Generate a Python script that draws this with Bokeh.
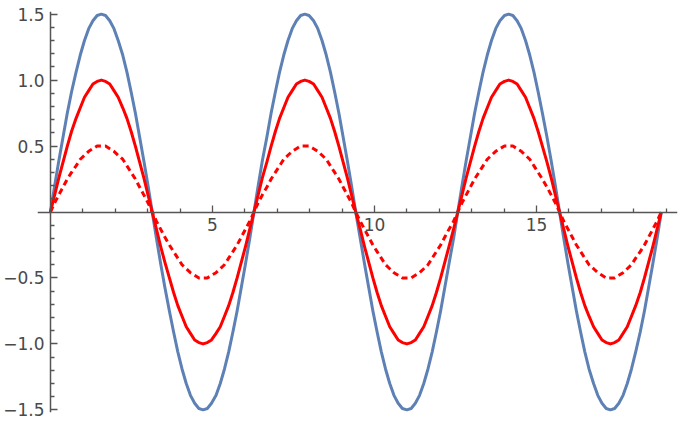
from bokeh.plotting import figure
from bokeh.models import FixedTicker, Range1d, LinearAxis
from bokeh.embed import file_html
from bokeh.resources import INLINE

# sample positions (x)
x_vals = [0.00, 0.13, 0.26, 0.39, 0.52, 0.65, 0.79, 0.92, 1.05, 1.18, 1.31, 1.44,
          1.57, 1.70, 1.83, 1.96, 2.09, 2.23, 2.36, 2.49, 2.62, 2.75, 2.88, 3.01,
          3.14, 3.27, 3.40, 3.53, 3.67, 3.80, 3.93, 4.06, 4.19, 4.32, 4.45, 4.58,
          4.71, 4.84, 4.97, 5.11, 5.24, 5.37, 5.50, 5.63, 5.76, 5.89, 6.02, 6.15,
          6.28, 6.41, 6.54, 6.68, 6.81, 6.94, 7.07, 7.20, 7.33, 7.46, 7.59, 7.72,
          7.85, 7.98, 8.12, 8.25, 8.38, 8.51, 8.64, 8.77, 8.90, 9.03, 9.16, 9.29,
          9.42, 9.56, 9.69, 9.82, 9.95, 10.08, 10.21, 10.34, 10.47, 10.60, 10.73, 10.86,
          11.00, 11.13, 11.26, 11.39, 11.52, 11.65, 11.78, 11.91, 12.04, 12.17, 12.30, 12.44,
          12.57, 12.70, 12.83, 12.96, 13.09, 13.22, 13.35, 13.48, 13.61, 13.74, 13.87, 14.01,
          14.14, 14.27, 14.40, 14.53, 14.66, 14.79, 14.92, 15.05, 15.18, 15.32, 15.45, 15.58,
          15.71, 15.84, 15.97, 16.10, 16.23, 16.36, 16.49, 16.62, 16.76, 16.89, 17.02, 17.15,
          17.28, 17.41, 17.54, 17.67, 17.80, 17.93, 18.06, 18.20, 18.33, 18.46, 18.59, 18.72,
          18.85]

# blue curve (largest amplitude)
blue_vals = [0, 0.20, 0.39, 0.57, 0.75, 0.91, 1.06, 1.19, 1.30, 1.39, 1.45, 1.49,
             1.50, 1.49, 1.45, 1.39, 1.30, 1.19, 1.06, 0.91, 0.75, 0.57, 0.39, 0.20,
             0, -0.20, -0.39, -0.57, -0.75, -0.91, -1.06, -1.19, -1.30, -1.39, -1.45, -1.49,
             -1.50, -1.49, -1.45, -1.39, -1.30, -1.19, -1.06, -0.91, -0.75, -0.57, -0.39, -0.20,
             0, 0.20, 0.39, 0.57, 0.75, 0.91, 1.06, 1.19, 1.30, 1.39, 1.45, 1.49,
             1.50, 1.49, 1.45, 1.39, 1.30, 1.19, 1.06, 0.91, 0.75, 0.57, 0.39, 0.20,
             0, -0.20, -0.39, -0.57, -0.75, -0.91, -1.06, -1.19, -1.30, -1.39, -1.45, -1.49,
             -1.50, -1.49, -1.45, -1.39, -1.30, -1.19, -1.06, -0.91, -0.75, -0.57, -0.39, -0.20,
             0, 0.20, 0.39, 0.57, 0.75, 0.91, 1.06, 1.19, 1.30, 1.39, 1.45, 1.49,
             1.50, 1.49, 1.45, 1.39, 1.30, 1.19, 1.06, 0.91, 0.75, 0.57, 0.39, 0.20,
             0, -0.20, -0.39, -0.57, -0.75, -0.91, -1.06, -1.19, -1.30, -1.39, -1.45, -1.49,
             -1.50, -1.49, -1.45, -1.39, -1.30, -1.19, -1.06, -0.91, -0.75, -0.57, -0.39, -0.20,
             0]

# red solid curve
red_vals = [0, 0.13, 0.26, 0.38, 0.50, 0.61, 0.71, 0.79, 0.87, 0.92, 0.97, 0.99,
            1.00, 0.99, 0.97, 0.92, 0.87, 0.79, 0.71, 0.61, 0.50, 0.38, 0.26, 0.13,
            0, -0.13, -0.26, -0.38, -0.50, -0.61, -0.71, -0.79, -0.87, -0.92, -0.97, -0.99,
            -1.00, -0.99, -0.97, -0.92, -0.87, -0.79, -0.71, -0.61, -0.50, -0.38, -0.26, -0.13,
            0, 0.13, 0.26, 0.38, 0.50, 0.61, 0.71, 0.79, 0.87, 0.92, 0.97, 0.99,
            1.00, 0.99, 0.97, 0.92, 0.87, 0.79, 0.71, 0.61, 0.50, 0.38, 0.26, 0.13,
            0, -0.13, -0.26, -0.38, -0.50, -0.61, -0.71, -0.79, -0.87, -0.92, -0.97, -0.99,
            -1.00, -0.99, -0.97, -0.92, -0.87, -0.79, -0.71, -0.61, -0.50, -0.38, -0.26, -0.13,
            0, 0.13, 0.26, 0.38, 0.50, 0.61, 0.71, 0.79, 0.87, 0.92, 0.97, 0.99,
            1.00, 0.99, 0.97, 0.92, 0.87, 0.79, 0.71, 0.61, 0.50, 0.38, 0.26, 0.13,
            0, -0.13, -0.26, -0.38, -0.50, -0.61, -0.71, -0.79, -0.87, -0.92, -0.97, -0.99,
            -1.00, -0.99, -0.97, -0.92, -0.87, -0.79, -0.71, -0.61, -0.50, -0.38, -0.26, -0.13,
            0]

# red dashed curve (smallest amplitude)
dashed_vals = [0, 0.07, 0.13, 0.19, 0.25, 0.30, 0.35, 0.40, 0.43, 0.46, 0.48, 0.50,
               0.50, 0.50, 0.48, 0.46, 0.43, 0.40, 0.35, 0.30, 0.25, 0.19, 0.13, 0.07,
               0, -0.07, -0.13, -0.19, -0.25, -0.30, -0.35, -0.40, -0.43, -0.46, -0.48, -0.50,
               -0.50, -0.50, -0.48, -0.46, -0.43, -0.40, -0.35, -0.30, -0.25, -0.19, -0.13, -0.07,
               0, 0.07, 0.13, 0.19, 0.25, 0.30, 0.35, 0.40, 0.43, 0.46, 0.48, 0.50,
               0.50, 0.50, 0.48, 0.46, 0.43, 0.40, 0.35, 0.30, 0.25, 0.19, 0.13, 0.07,
               0, -0.07, -0.13, -0.19, -0.25, -0.30, -0.35, -0.40, -0.43, -0.46, -0.48, -0.50,
               -0.50, -0.50, -0.48, -0.46, -0.43, -0.40, -0.35, -0.30, -0.25, -0.19, -0.13, -0.07,
               0, 0.07, 0.13, 0.19, 0.25, 0.30, 0.35, 0.40, 0.43, 0.46, 0.48, 0.50,
               0.50, 0.50, 0.48, 0.46, 0.43, 0.40, 0.35, 0.30, 0.25, 0.19, 0.13, 0.07,
               0, -0.07, -0.13, -0.19, -0.25, -0.30, -0.35, -0.40, -0.43, -0.46, -0.48, -0.50,
               -0.50, -0.50, -0.48, -0.46, -0.43, -0.40, -0.35, -0.30, -0.25, -0.19, -0.13, -0.07,
               0]

x_major = [5, 10, 15]
x_minor = [1, 2, 3, 4, 6, 7, 8, 9, 11, 12, 13, 14, 16, 17, 18, 19]
y_major = [-1.5, -1.0, -0.5, 0.5, 1.0, 1.5]
y_labels = ["\u22121.5", "\u22121.0", "\u22120.5", "0.5", "1.0", "1.5"]
y_minor = [-1.4, -1.3, -1.2, -1.1, -0.9, -0.8, -0.7, -0.6, -0.4, -0.3, -0.2, -0.1,
           0.1, 0.2, 0.3, 0.4, 0.6, 0.7, 0.8, 0.9, 1.1, 1.2, 1.3, 1.4]

p = figure(width=679, height=423, output_backend="svg", toolbar_location=None,
           x_range=Range1d(-0.4, 19.35), y_range=Range1d(-1.52, 1.52),
           min_border_left=36, min_border_right=2, min_border_top=11, min_border_bottom=11)
p.outline_line_color = None
p.xgrid.visible = False
p.ygrid.visible = False
p.background_fill_color = "white"
p.border_fill_color = "white"

p.line(x_vals, blue_vals, line_color="#5E81B5", line_width=3, line_join="round")
p.line(x_vals, red_vals, line_color="#FF0000", line_width=3, line_join="round")
p.line(x_vals, dashed_vals, line_color="#FF0000", line_width=3, line_dash="6 4")

axis_color = "#555555"
label_color = "#4a4a4a"

xa = p.xaxis[0]
xa.fixed_location = 0
xa.ticker = FixedTicker(ticks=x_major, minor_ticks=x_minor)
xa.axis_line_color = axis_color
xa.axis_line_width = 1.5
xa.major_tick_line_color = axis_color
xa.minor_tick_line_color = axis_color
xa.major_tick_line_width = 1.3
xa.minor_tick_line_width = 1.3
xa.major_tick_in = 7
xa.major_tick_out = 0
xa.minor_tick_in = 4
xa.minor_tick_out = 0
xa.major_label_text_font = "DejaVu Sans"
xa.major_label_text_font_size = "17px"
xa.major_label_text_color = label_color
xa.major_label_standoff = 6

# labels-only axis on the left edge, shifted right toward x = 0
ya = p.yaxis[0]
ya.ticker = FixedTicker(ticks=y_major, minor_ticks=[])
ya.major_label_overrides = {v: s for v, s in zip(y_major, y_labels)}
ya.axis_line_color = None
ya.major_tick_line_color = None
ya.minor_tick_line_color = None
ya.major_tick_in = 0
ya.major_tick_out = 0
ya.minor_tick_in = 0
ya.minor_tick_out = 0
ya.major_label_text_font = "DejaVu Sans"
ya.major_label_text_font_size = "17px"
ya.major_label_text_color = label_color
ya.major_label_standoff = -7

# line-and-ticks axis through x = 0
ya2 = LinearAxis(fixed_location=0,
                 ticker=FixedTicker(ticks=y_major, minor_ticks=y_minor),
                 major_label_text_color=None, major_label_text_font_size="1px",
                 axis_line_color=axis_color, axis_line_width=1.5,
                 major_tick_line_color=axis_color, minor_tick_line_color=axis_color,
                 major_tick_line_width=1.3, minor_tick_line_width=1.3,
                 major_tick_in=7, major_tick_out=0, minor_tick_in=4, minor_tick_out=0)
p.add_layout(ya2, "left")

open("out.html", "w").write(file_html(p, INLINE))
